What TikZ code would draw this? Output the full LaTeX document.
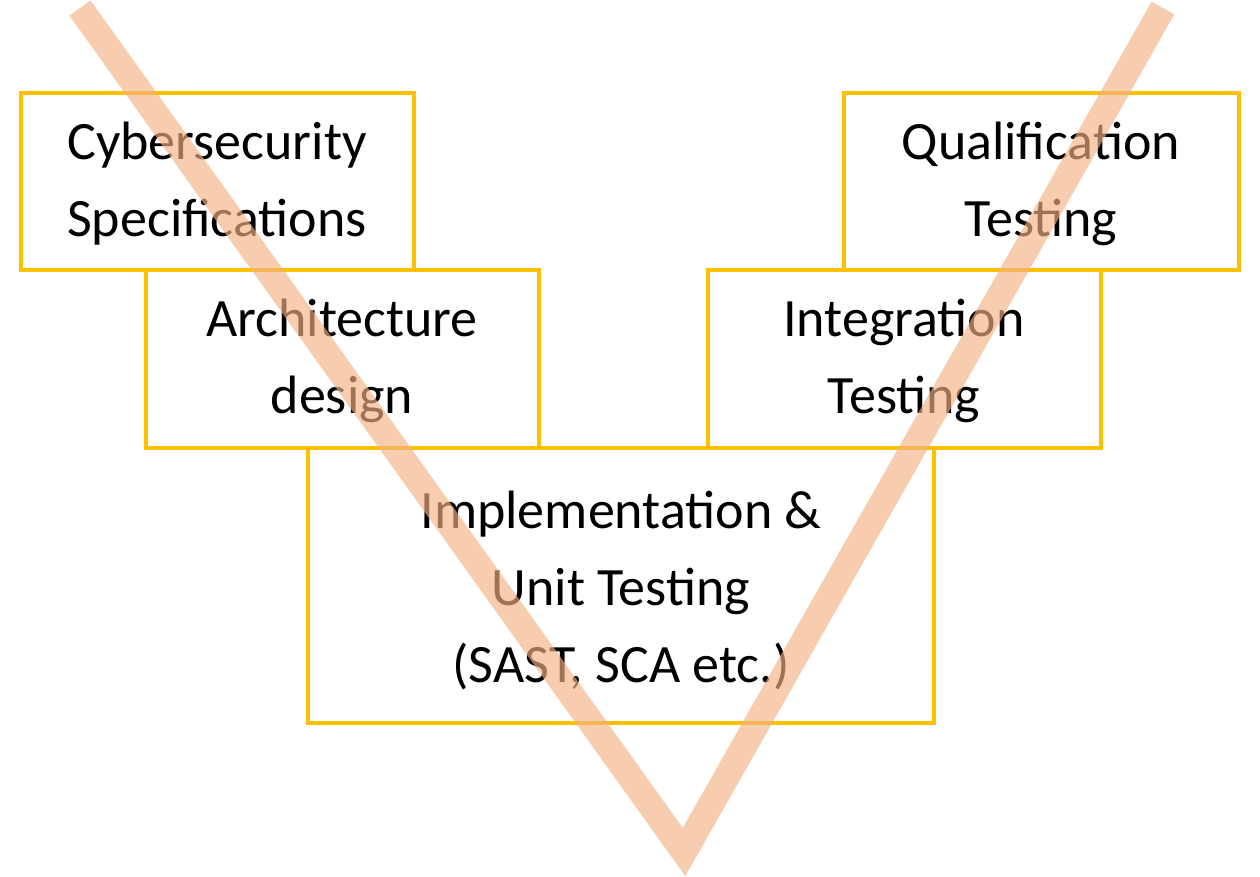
\documentclass[tikz,border=0pt]{standalone}
\usepackage{fontspec}
\setmainfont{Carlito}
\begin{document}
\begin{tikzpicture}[x=1pt,y=-1pt,
  box/.style={draw=boxgold,line width=4pt},
  lbl/.style={align=center,font=\fontsize{54}{77}\selectfont,inner sep=0pt}]
\definecolor{boxgold}{HTML}{FFC000}
\definecolor{vcol}{HTML}{F4B183}
\useasboundingbox (0,0) rectangle (1260,876);
\draw[box] (21,93) rectangle (414,270);
\draw[box] (146,270) rectangle (539,448);
\draw[box] (844,93) rectangle (1239,270);
\draw[box] (708,270) rectangle (1101,448);
\draw[box] (308,448) rectangle (934,723);
\node[lbl] (cyber) at (217,184) {Cybersecurity\\Specifications};
\node[lbl] (arch) at (342,361) {Architecture\\design};
\node[lbl] (qual) at (1041,184) {Qualification\\Testing};
\node[lbl] (integ) at (904,361) {Integration\\Testing};
\node[lbl] (impl) at (621,590) {Implementation \&\\Unit Testing\\(SAST, SCA etc.)};
\coordinate (vl) at (80,8);
\coordinate (vb) at (684,852);
\coordinate (vr) at (1163,8);
\draw[vcol,opacity=0.65,line width=26pt,line join=miter] (vl) -- (vb) -- (vr);
\end{tikzpicture}
\end{document}
